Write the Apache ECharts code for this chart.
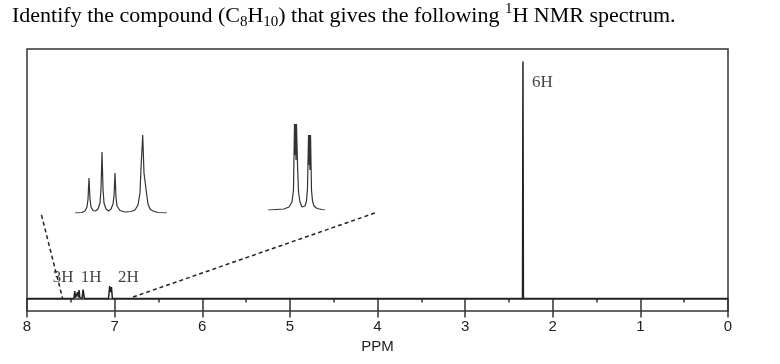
<!DOCTYPE html>
<html>
<head>
<meta charset="utf-8">
<script src="https://cdn.jsdelivr.net/npm/echarts@6/dist/echarts.min.js"></script>
<style>html,body{margin:0;padding:0;background:#fff}#c{width:780px;height:364px}</style>
</head>
<body>
<div id="c"></div>
<script>
// Main spectrum: [ppm, intensity]
const mainSpectrum = [
  [8.0,0],[7.465,0],[7.455,3.0],[7.447,0.3],[7.43,0.3],[7.422,2.6],[7.414,0.5],[7.405,3.4],[7.397,0.3],
  [7.37,0.2],[7.36,3.6],[7.352,3.8],[7.345,0],[7.07,0],[7.056,5.0],[7.046,2.6],[7.036,4.6],[7.026,0],
  [2.345,0],[2.34,95],[2.335,0],[0.0,0]
];
// Expansion of the 7.3-7.5 ppm multiplet: [ppm, height]
const inset1 = [
  [7.5000,0],[7.4848,0.5],[7.4783,2],[7.4739,6],[7.4717,14],[7.4696,35],[7.4674,14],[7.4652,6],[7.4609,2.5],
  [7.4554,2],[7.4500,4],[7.4457,10],[7.4435,24],[7.4413,61],[7.4391,24],[7.4370,10],[7.4326,4],[7.4272,2],
  [7.4217,4],[7.4174,9],[7.4152,17],[7.4130,40],[7.4109,16],[7.4087,7],[7.4022,2.5],[7.3913,1],[7.3783,1.5],
  [7.3696,3],[7.3630,8],[7.3587,20],[7.3565,45],[7.3543,45],[7.3528,78],[7.3515,78],[7.3500,40],[7.3467,38],
  [7.3446,20],[7.3413,9],[7.3370,4],[7.3304,2],[7.3196,0.5],[7.3000,0]
];
// Expansion of the 7.0-7.1 ppm doublet: [ppm, height]
const inset2 = [
  [7.1000,0],[7.0719,1],[7.0632,3],[7.0579,8],[7.0553,20],[7.0535,86],[7.0526,55],[7.0518,86],[7.0509,50],[7.0500,86],[7.0482,45],
  [7.0465,18],[7.0439,8],[7.0404,3],[7.0377,2],[7.0351,4],[7.0325,9],[7.0307,22],[7.0289,75],[7.0281,45],[7.0272,75],[7.0263,40],
  [7.0254,75],[7.0237,20],[7.0219,9],[7.0193,4],[7.0140,1.5],[7.0053,0.5],[7.0000,0]
];
// Dashed guide lines (main-axis coordinates)
const dashLeft = [[7.835,33.5],[7.595,0.2]];
const dashRight = [[6.79,0.6],[4.028,34.3]];
// Integration labels
const integrals = [
  {name:'6H', value:[2.237,86.4]},
  {name:'3H', value:[7.707,8.4]},
  {name:'1H', value:[7.387,8.4]},
  {name:'2H', value:[6.961,8.4]}
];
const axisTitle = 'PPM';

const chart = echarts.init(document.getElementById('c'), null, {renderer:'canvas'});
const ink = '#222';
const lineSer = (data, xi, w, extra) => Object.assign({
  type:'line', data, xAxisIndex:xi, yAxisIndex:xi, symbol:'none', silent:true,
  lineStyle:{color:ink, width:w}, animation:false
}, extra || {});
chart.setOption({
  animation:false,
  title:{
    text:'{n|Identify the compound (C}{sub|8}{n|H}{sub|10}{n|) that gives the following }{sup|1}{n|H NMR spectrum.}',
    left:12, top:2, padding:0,
    textStyle:{
      fontWeight:'normal',
      rich:{
        n:{fontFamily:'Liberation Serif', fontSize:22, fontWeight:'normal', lineHeight:28, color:'#000'},
        sub:{fontFamily:'Liberation Serif', fontSize:15, fontWeight:'normal', lineHeight:18, verticalAlign:'bottom', color:'#000'},
        sup:{fontFamily:'Liberation Serif', fontSize:15, fontWeight:'normal', lineHeight:18, verticalAlign:'top', color:'#000'}
      }
    }
  },
  grid:[
    {left:27, right:52, top:49, bottom:53, show:true, borderColor:'#333', borderWidth:1.5, backgroundColor:'transparent'},
    {left:75, width:92, top:133, height:80},
    {left:268, width:57, top:120, height:90}
  ],
  xAxis:[
    {type:'value', gridIndex:0, min:0, max:8, interval:1, inverse:true,
     axisLine:{show:true, lineStyle:{color:'#333', width:1.5}},
     axisTick:{show:true, length:19, lineStyle:{color:'#333', width:1.5}},
     minorTick:{show:true, splitNumber:2, length:4, lineStyle:{color:'#333', width:1.5}},
     splitLine:{show:false},
     axisLabel:{fontFamily:'Liberation Sans', fontSize:15, color:'#222', margin:8},
     name:axisTitle, nameLocation:'middle', nameGap:19,
     nameTextStyle:{fontFamily:'Liberation Sans', fontSize:15, color:'#222'}},
    {type:'value', gridIndex:1, min:7.30, max:7.50, inverse:true, show:false, splitLine:{show:false}},
    {type:'value', gridIndex:2, min:7.00, max:7.10, inverse:true, show:false, splitLine:{show:false}}
  ],
  yAxis:[
    {type:'value', gridIndex:0, min:-5, max:100, show:false, splitLine:{show:false}},
    {type:'value', gridIndex:1, min:0, max:80, show:false, splitLine:{show:false}},
    {type:'value', gridIndex:2, min:0, max:90, show:false, splitLine:{show:false}}
  ],
  series:[
    lineSer(mainSpectrum, 0, 1.5, {z:5}),
    lineSer(inset1, 1, 1, {lineStyle:{color:'#333', width:1.2}}),
    lineSer(inset2, 2, 1, {lineStyle:{color:'#333', width:1.2}}),
    lineSer(dashLeft, 0, 1.5, {lineStyle:{color:ink, width:1.5, type:[4,3]}, z:6}),
    lineSer(dashRight, 0, 1.5, {lineStyle:{color:ink, width:1.5, type:[4,3]}, z:6}),
    {type:'scatter', xAxisIndex:0, yAxisIndex:0, data:integrals, symbolSize:0, silent:true,
     label:{show:true, position:'inside', align:'left', verticalAlign:'middle', offset:[0,0],
            formatter:p=>p.name, fontFamily:'Liberation Serif', fontSize:17, color:'#111'}}
  ]
});
</script>
</body>
</html>
